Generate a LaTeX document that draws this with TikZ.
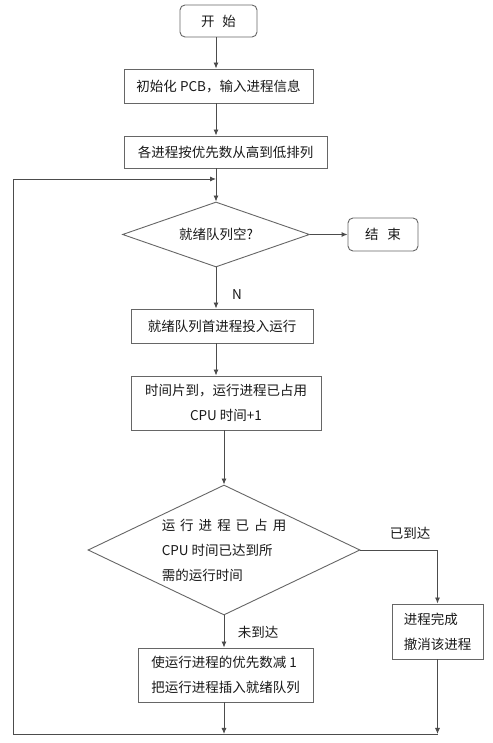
\documentclass[tikz,border=0pt]{standalone}
\usepackage{fontspec}
\setmainfont{Noto Sans CJK SC}
\usepackage{tikz}
\usetikzlibrary{shapes.geometric,arrows.meta}

\begin{document}
\begin{tikzpicture}[x=1pt,y=1pt,
  box/.style={draw=drawColor,line width=0.9pt,inner sep=2pt,font=\fontsize{13.5}{25}\selectfont,text=textColor},
  rbox/.style={box,rounded corners=5pt},
  choice/.style={diamond,draw=drawColor,line width=0.9pt,inner sep=0pt,font=\fontsize{13.5}{25}\selectfont,text=textColor},
  arr/.style={draw=lineColor,line width=0.9pt,-{Latex[length=6pt,width=5pt]}},
  line/.style={draw=lineColor,line width=0.9pt},
  tag/.style={font=\fontsize{13.5}{15}\selectfont,text=textColor,inner sep=0pt}]
\definecolor{drawColor}{gray}{0.40}
\definecolor{lineColor}{gray}{0.30}
\definecolor{textColor}{gray}{0.10}
\path[use as bounding box,fill=white] (0,0) rectangle (492,743);

\node[rbox,minimum width=77pt,minimum height=32pt] (start) at (218.5,722) {开\hspace{8pt}始};
\node[box,minimum width=189pt,minimum height=34pt] (init) at (218.5,657) {初始化 PCB，输入进程信息};
\node[box,minimum width=203pt,minimum height=32pt] (sort) at (225.5,591) {各进程按优先数从高到低排列};
\coordinate (merge) at (216,564);
\node[choice,aspect=2.88,minimum width=187pt,minimum height=65pt] (empty) at (216,508.5) {就绪队列空?};
\node[rbox,minimum width=70pt,minimum height=33pt] (finish) at (383,508.5) {结\hspace{9pt}束};
\node[box,minimum width=182pt,minimum height=34pt] (run) at (222,417) {就绪队列首进程投入运行};
\node[box,minimum width=190pt,minimum height=54pt,align=center] (slice) at (226,340) {时间片到，运行进程已占用\\CPU 时间+1};
\node[choice,aspect=2.09,minimum width=272pt,minimum height=130pt,align=left] (reach) at (224,193) {运\hspace{5pt}行\hspace{5pt}进\hspace{5pt}程\hspace{5pt}已\hspace{5pt}占\hspace{5pt}用\\CPU 时间已达到所\\需的运行时间};
\node[box,minimum width=175pt,minimum height=54pt,align=left] (lower) at (225.5,68) {使运行进程的优先数减 1\\把运行进程插入就绪队列};
\node[box,minimum width=91pt,minimum height=55pt,align=left] (done) at (437.5,111.5) {进程完成\\撤消该进程};
\coordinate (botR) at (437.5,9);
\coordinate (botL) at (13,9);
\coordinate (topL) at (13,564);

\node[tag] (no) at (237,448) {N};
\node[tag] (yes) at (410,210) {已到达};
\node[tag] (notyet) at (258,111) {未到达};

\draw[arr] (start.south -| merge) -- (init.north -| merge);
\draw[arr] (init.south -| merge) -- (sort.north -| merge);
\draw[line] (sort.south -| merge) -- (merge);
\draw[arr] (merge) -- (empty.north);
\draw[arr] (empty.east) -- (finish.west);
\draw[arr] (empty.south) -- (run.north -| empty);
\draw[arr] (run.south -| empty) -- (slice.north -| empty);
\draw[arr] (slice.south -| reach) -- (reach.north);
\draw[arr] (reach.south) -- (lower.north -| reach);
\draw[arr] (reach.east) -| (done.north);
\draw[arr] (lower.south -| reach) -- (botL -| reach);
\draw[arr] (done.south) -- (botR);
\draw[line] (botR) -- (botL) -- (topL);
\draw[arr] (topL) -- (merge);
\end{tikzpicture}
\end{document}
